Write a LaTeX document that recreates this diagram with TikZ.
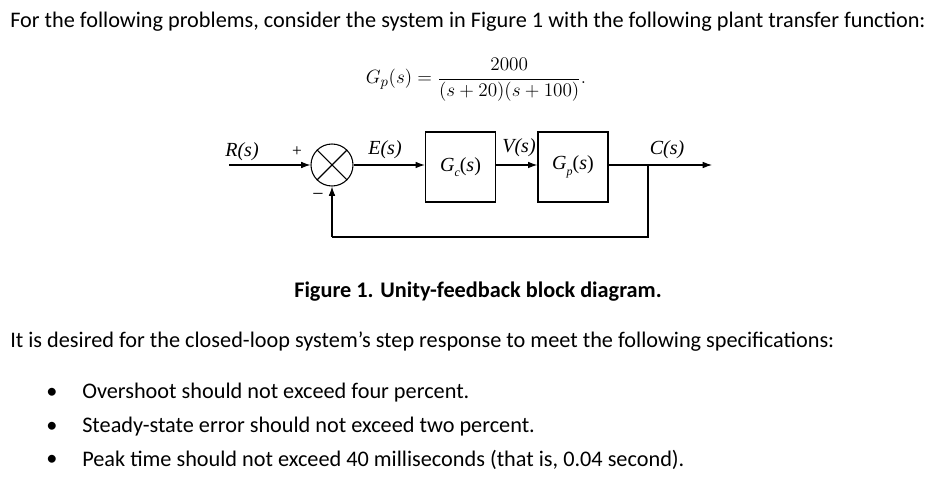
\documentclass[tikz,border=0pt]{standalone}
\usepackage{fontspec}
\usepackage{amsmath}
\setmainfont{Carlito}
\newfontfamily\tms{Liberation Serif}
\usetikzlibrary{arrows.meta}
\begin{document}
\begin{tikzpicture}[x=0.75pt,y=-0.75pt,
  txt/.style={anchor=west,inner sep=0,font=\fontsize{16.7}{19}\selectfont},
  blk/.style={draw,line width=1pt,minimum width=52.5pt,minimum height=52.5pt,inner sep=0,font=\tms\fontsize{15}{17}\selectfont},
  lab/.style={inner sep=0,font=\tms\itshape\fontsize{15}{17}\selectfont},
  sig/.style={line width=0.8pt,-{Latex[length=7pt,width=5pt]}},
  ln/.style={line width=0.8pt}]
\useasboundingbox (0,0) rectangle (939,484);
\node[txt] (t1) at (10,22) {For the following problems, consider the system in Figure 1 with the following plant transfer function:};
\node[inner sep=0,font=\fontsize{15}{17}\selectfont] (eq) at (476,80) {$G_p(s)=\dfrac{2000}{(s+20)(s+100)}.$};
\node[draw,circle,line width=0.8pt,minimum size=31.5pt,inner sep=0] (sum) at (332,165) {};
\draw[line width=0.8pt] (sum.north west)--(sum.south east) (sum.north east)--(sum.south west);
\node[blk] (gc) at (460.5,167) {\textit{G}\raisebox{-4pt}{\fontsize{9}{9}\selectfont\textit{c}}(\textit{s})};
\node[blk] (gp) at (573,167) {\textit{G}\raisebox{-4pt}{\fontsize{9}{9}\selectfont\textit{p}}(\textit{s})};
\coordinate (in) at (229,165);
\coordinate (out) at (712,165);
\coordinate (br) at (648,165);
\coordinate (bl) at (648,237);
\coordinate (bs) at (332,237);
\draw[sig] (in) -- (sum.west);
\draw[sig] (sum.east) -- (gc.west |- sum.east);
\draw[sig] (gc.east |- sum) -- (gp.west |- sum);
\draw[sig] (gp.east |- sum) -- (out);
\draw[ln] (br) -- (bl) -- (bs);
\draw[sig] (bs) -- (sum.south);
\node[lab] (r) at (242,152) {R(s)};
\node[lab] (e) at (385,150) {E(s)};
\node[lab] (v) at (519,148) {V(s)};
\node[lab] (c) at (667,150) {C(s)};
\node[inner sep=0,font=\tms\fontsize{13}{15}\selectfont] (plus) at (297,152) {+};
\node[inner sep=0,font=\tms\fontsize{15}{15}\selectfont] (minus) at (318,197) {\textminus};
\node[inner sep=0,font=\bfseries\fontsize{16.7}{19}\selectfont] (cap) at (478,292) {Figure 1. Unity-feedback block diagram.};
\node[txt] (t2) at (10,342) {It is desired for the closed-loop system’s step response to meet the following specifications:};
\foreach \y/\t [count=\i] in {393/Overshoot should not exceed four percent.,427/Steady-state error should not exceed two percent.,460/{Peak time should not exceed 40 milliseconds (that is, 0.04 second).}}{
  \node[inner sep=0,font=\fontsize{16.7}{19}\selectfont] (b\i) at (52,\y) {•};
  \node[txt] (l\i) at (82,\y) {\t};
}
\end{tikzpicture}
\end{document}
